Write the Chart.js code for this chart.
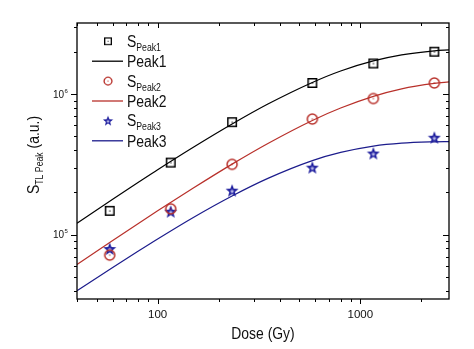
<!DOCTYPE html>
<html>
<head>
<meta charset="utf-8">
<script src="https://cdn.jsdelivr.net/npm/chart.js@4"></script>
<style>
  body { margin: 0; background: #fff; }
  canvas { display: block; }
</style>
</head>
<body>
<canvas id="doseChart" width="474" height="349"></canvas>
<script>
// measured points
var doses = [58, 116, 233, 580, 1160, 2320];
var sPeak1 = [148000, 326000, 632000, 1200000, 1650000, 2000000];
var sPeak2 = [71800, 153000, 317000, 665000, 930000, 1200000];
var sPeak3 = [79300, 146000, 206000, 300000, 378000, 490000];

// fitted curves
var fitDoses = [40, 60, 80, 100, 150, 233, 350, 580, 800, 1160, 1600, 2320, 2740];
var fitPeak1 = [121000, 179000, 235000, 290000, 419000, 613000, 850000, 1210000, 1460000, 1720000, 1900000, 2030000, 2060000];
var fitPeak2 = [61500, 91000, 120000, 148000, 215000, 318000, 446000, 650000, 796000, 964000, 1090000, 1190000, 1220000];
var fitPeak3 = [40000, 58600, 76400, 93500, 133000, 189000, 252000, 337000, 385000, 427000, 448000, 458000, 460000];

var xTickLabels = [100, 1000];
var yTickLabels = [1e5, 1e6];

var black = '#000000';
var red = '#b8302a';
var blue = '#1c1c8c';
var textColor = '#111111';

function makeMarker(draw) {
  var c = document.createElement('canvas');
  c.width = 14; c.height = 14;
  draw(c.getContext('2d'));
  return c;
}

var squareMark = makeMarker(function(g) {
  g.strokeStyle = black; g.lineWidth = 1.5;
  g.strokeRect(2.75, 2.75, 8.5, 8.5);
  g.fillStyle = black; g.fillRect(6.5, 6.5, 1.2, 1.2);
});
var circleMark = makeMarker(function(g) {
  g.strokeStyle = red; g.lineWidth = 1.5;
  g.beginPath(); g.arc(7, 7, 5, 0, Math.PI * 2); g.stroke();
  g.fillStyle = red; g.fillRect(6.4, 6.4, 1.2, 1.2);
});
function starPath(g, cx, cy, ro, ri) {
  g.beginPath();
  for (var i = 0; i < 10; i++) {
    var r = i % 2 ? ri : ro;
    var ang = -Math.PI / 2 + i * Math.PI / 5;
    g.lineTo(cx + r * Math.cos(ang), cy + r * Math.sin(ang));
  }
  g.closePath();
}
var starMark = makeMarker(function(g) {
  g.fillStyle = '#1a1a9c';
  starPath(g, 7, 7.4, 6.8, 2.9); g.fill();
  g.fillStyle = '#b8b8e8';
  starPath(g, 7, 7.6, 2.6, 1.1); g.fill();
});

function pts(xs, ys) {
  return xs.map(function(x, i) { return {x: x, y: ys[i]}; });
}

function logTicks(min, max) {
  var out = [];
  for (var k = Math.floor(Math.log10(min)); k <= Math.ceil(Math.log10(max)); k++) {
    for (var m = 1; m <= 9; m++) {
      var v = m * Math.pow(10, k);
      if (v >= min && v <= max) out.push({v: v, major: m === 1});
    }
  }
  return out;
}

function seg(ctx, x1, y1, x2, y2) {
  ctx.beginPath(); ctx.moveTo(x1, y1); ctx.lineTo(x2, y2); ctx.stroke();
}

// text with the slight horizontal squeeze of the original
var squeeze = 0.87;
function textW(ctx, s, font) {
  ctx.font = font;
  return ctx.measureText(s).width * squeeze;
}
function putText(ctx, s, x, y, font) {
  ctx.save();
  ctx.font = font;
  ctx.translate(x, y);
  ctx.scale(squeeze, 1);
  ctx.textAlign = 'left';
  ctx.textBaseline = 'alphabetic';
  ctx.fillText(s, 0, 0);
  ctx.restore();
  return textW(ctx, s, font);
}

var bigFont = '16px "Liberation Sans", Arial, sans-serif';
var subFont = '10px "Liberation Sans", Arial, sans-serif';

var frameAndText = {
  id: 'frameAndText',
  afterDatasetsDraw: function(chart) {
    var ctx = chart.ctx, a = chart.chartArea;
    var xs = chart.scales.x, ys = chart.scales.y;
    ctx.save();
    ctx.strokeStyle = black;
    ctx.lineWidth = 1.3;
    ctx.strokeRect(a.left, a.top, a.right - a.left, a.bottom - a.top);
    ctx.lineWidth = 1;

    logTicks(xs.min, xs.max).forEach(function(t) {
      var px = Math.round(xs.getPixelForValue(t.v)) + 0.5;
      var len = t.major ? 5 : 3;
      seg(ctx, px, a.bottom, px, a.bottom + len);
      seg(ctx, px, a.top, px, a.top + len);
    });
    logTicks(ys.min, ys.max).forEach(function(t) {
      var py = Math.round(ys.getPixelForValue(t.v)) + 0.5;
      var len = t.major ? 6 : 3;
      seg(ctx, a.left - len, py, a.left, py);
      seg(ctx, a.right - len, py, a.right, py);
    });

    ctx.fillStyle = textColor;
    ctx.font = '11.5px "Liberation Sans", Arial, sans-serif';
    ctx.textAlign = 'center';
    ctx.textBaseline = 'alphabetic';
    xTickLabels.forEach(function(v) {
      ctx.fillText(String(v), xs.getPixelForValue(v), a.bottom + 19);
    });
    yTickLabels.forEach(function(v) {
      var py = ys.getPixelForValue(v);
      var exp = String(Math.round(Math.log10(v)));
      ctx.textAlign = 'right';
      ctx.font = '10px "Liberation Sans", Arial, sans-serif';
      ctx.fillText('10', a.left - 13, py + 3.5);
      ctx.textAlign = 'left';
      ctx.font = '6px "Liberation Sans", Arial, sans-serif';
      ctx.fillText(exp, a.left - 12.5, py - 1.5);
    });

    // x title
    var xt = 'Dose (Gy)';
    var w = textW(ctx, xt, bigFont);
    putText(ctx, xt, (a.left + a.right) / 2 - w / 2, 339, bigFont);

    // y title with subscript
    ctx.save();
    ctx.translate(39, 155);
    ctx.rotate(-Math.PI / 2);
    var total = textW(ctx, 'S', bigFont) + textW(ctx, 'TL Peak', subFont) + textW(ctx, ' (a.u.)', bigFont);
    var cx = -total / 2;
    cx += putText(ctx, 'S', cx, 0, bigFont);
    cx += putText(ctx, 'TL Peak', cx, 4, subFont);
    putText(ctx, ' (a.u.)', cx, 0, bigFont);
    ctx.restore();

    // legend
    var rows = [
      {kind: 'mark', img: squareMark, sub: 'Peak1'},
      {kind: 'line', color: black, label: 'Peak1'},
      {kind: 'mark', img: circleMark, sub: 'Peak2'},
      {kind: 'line', color: red, label: 'Peak2'},
      {kind: 'mark', img: starMark, sub: 'Peak3'},
      {kind: 'line', color: blue, label: 'Peak3'}
    ];
    rows.forEach(function(r, i) {
      var ry = 41.3 + i * 19.9;
      if (r.kind === 'mark') {
        ctx.drawImage(r.img, 108 - 5.5, ry - 5.5, 11, 11);
        var sx = 127 + putText(ctx, 'S', 127, ry + 5.4, bigFont);
        putText(ctx, r.sub, sx, ry + 9.4, subFont);
      } else {
        ctx.strokeStyle = r.color;
        ctx.lineWidth = 1.3;
        seg(ctx, 92, ry, 123, ry);
        putText(ctx, r.label, 127, ry + 6, bigFont);
      }
    });
    ctx.restore();
  }
};

var ctx = document.getElementById('doseChart').getContext('2d');
new Chart(ctx, {
  type: 'line',
  data: {
    datasets: [
      {label: 'S Peak1', data: pts(doses, sPeak1), showLine: false, pointStyle: squareMark, order: 0},
      {label: 'S Peak2', data: pts(doses, sPeak2), showLine: false, pointStyle: circleMark, order: 0},
      {label: 'S Peak3', data: pts(doses, sPeak3), showLine: false, pointStyle: starMark, order: 0},
      {label: 'Peak1', data: pts(fitDoses, fitPeak1), borderColor: black, borderWidth: 1.2, pointRadius: 0, cubicInterpolationMode: 'monotone', order: 1},
      {label: 'Peak2', data: pts(fitDoses, fitPeak2), borderColor: red, borderWidth: 1.2, pointRadius: 0, cubicInterpolationMode: 'monotone', order: 1},
      {label: 'Peak3', data: pts(fitDoses, fitPeak3), borderColor: blue, borderWidth: 1.2, pointRadius: 0, cubicInterpolationMode: 'monotone', order: 1}
    ]
  },
  options: {
    responsive: false,
    animation: false,
    layout: {padding: {left: 77, right: 25, top: 23, bottom: 50}},
    plugins: {legend: {display: false}, tooltip: {enabled: false}},
    scales: {
      x: {type: 'logarithmic', min: 40, max: 2740, display: false},
      y: {type: 'logarithmic', min: 35000, max: 3200000, display: false}
    }
  },
  plugins: [frameAndText]
});
</script>
</body>
</html>
